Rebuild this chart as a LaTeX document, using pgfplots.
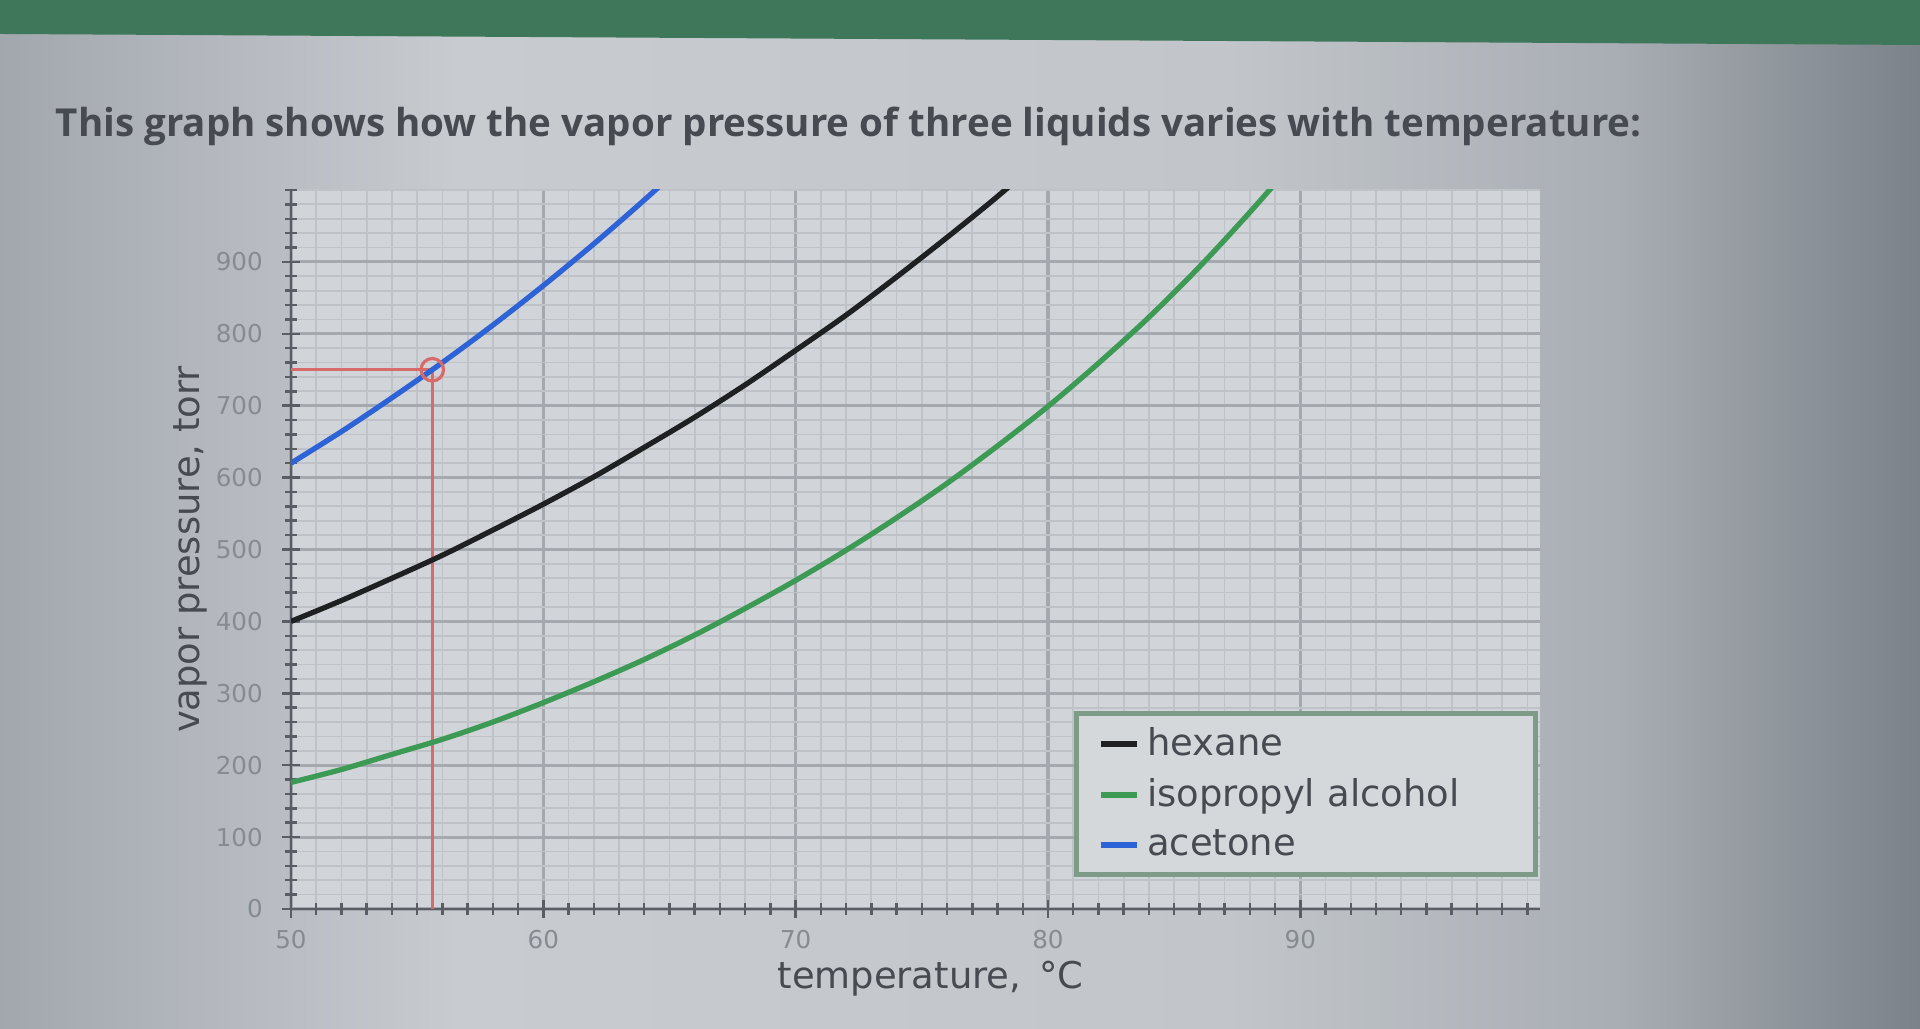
\documentclass[border=0pt]{standalone}
\usepackage{pgfplots}
\pgfplotsset{compat=1.18}
\usepackage{fontspec}
\setmainfont{DejaVu Sans}
\newfontfamily\titlefont{Open Sans}
\definecolor{bgL}{HTML}{A2A7AE}
\definecolor{bgM}{HTML}{C8CCD1}
\definecolor{bgM2}{HTML}{C2C6CB}
\definecolor{bgM3}{HTML}{A9AEB4}
\definecolor{bgR}{HTML}{7C828A}
\definecolor{band}{HTML}{3E7759}
\definecolor{plotbg}{HTML}{D1D4D8}
\definecolor{majgrid}{HTML}{A4A8AF}
\definecolor{mingrid}{HTML}{BFC3C8}
\definecolor{axcol}{HTML}{5A5E64}
\definecolor{ticklab}{HTML}{868B92}
\definecolor{labtext}{HTML}{474B51}
\definecolor{hexc}{HTML}{1E2022}
\definecolor{ipac}{HTML}{3C9A55}
\definecolor{acec}{HTML}{2D63D6}
\definecolor{redc}{HTML}{D86A6A}
\definecolor{legframe}{HTML}{7E9B88}
\definecolor{legfill}{HTML}{D5D8DB}
\pgfdeclarehorizontalshading{bgshade}{100bp}{color(0bp)=(bgL); color(25bp)=(bgL); color(37bp)=(bgM); color(57bp)=(bgM2); color(67bp)=(bgM3); color(75bp)=(bgR); color(100bp)=(bgR)}

\pgfplotstableread{
T P
50 400
52 429
54 460
56 492
58 527
60 563
62 601
64 642
66 684
68 729
70 777
72 826
74 879
76 934
78 991
80 1052
}\hexane

\pgfplotstableread{
T P
50 176
52 194
54 215
56 236
58 260
60 287
62 316
64 347
66 381
68 418
70 457
72 499
74 544
76 592
78 644
80 699
82 759
84 823
86 893
88 969
90 1049
}\ipa

\pgfplotstableread{
T P
50 620
52 664
54 711
56 760
58 812
60 867
62 925
64 986
66 1050
}\acetone

\begin{document}
\begin{tikzpicture}[x=1cm,y=1cm]
\useasboundingbox (0,0) rectangle (19.2,10.29);
\shade[shading=bgshade] (0,0) rectangle (19.2,10.29);
\fill[band] (0,10.29) -- (19.2,10.29) -- (19.2,9.84) -- (0,9.95) -- cycle;
\node[anchor=west, inner sep=0pt, text=labtext] at (0.55,9.03)
  {\resizebox{15.86cm}{!}{\titlefont\bfseries This graph shows how the vapor pressure of three liquids varies with temperature:}};
\begin{axis}[
  at={(2.91cm,1.2cm)}, anchor=south west,
  scale only axis, width=12.49cm, height=7.19cm,
  xmin=50, xmax=99.5, ymin=0, ymax=1000,
  axis background/.style={fill=plotbg},
  axis x line=bottom, axis y line=left,
  axis line style={-, draw=axcol, line width=0.8pt},
  xtick={50,60,70,80,90}, ytick={0,100,...,900},
  minor xtick={50,51,...,99}, minor ytick={0,20,...,1000},
  grid=both,
  major grid style={draw=majgrid, line width=0.9pt},
  minor grid style={draw=mingrid, line width=0.5pt},
  tick align=center,
  major tick length=5pt, minor tick length=3.5pt,
  every tick/.style={draw=axcol, line width=0.7pt},
  tick label style={font=\fontsize{7}{8}\selectfont, text=ticklab},
  /pgf/number format/assume math mode=true,
  /pgf/number format/1000 sep={},
  xticklabel style={yshift=0pt},
  yticklabel style={xshift=-2pt},
  xlabel={temperature, \,°C},
  ylabel={vapor pressure, torr},
  label style={font=\fontsize{10.5}{12}\selectfont, text=labtext},
  xlabel style={at={(axis description cs:0.512,0)}, anchor=center, yshift=-0.7cm},
  ylabel style={at={(axis description cs:0,0.5)}, anchor=center, xshift=0cm, yshift=1.01cm},
  clip=true,
  legend style={at={(rel axis cs:0.998,0.045)}, anchor=south east,
    draw=legframe, line width=1.3pt, fill=legfill,
    font=\fontsize{10.5}{11}\selectfont, text=labtext,
    inner xsep=6pt, inner ysep=2pt, row sep=1pt,
    text width=3.6cm, align=left},
  legend cell align=left,
  legend image code/.code={\draw[#1, line width=1.8pt] (0cm,0cm) -- (0.36cm,0cm);},
]
\addplot[redc, line width=1pt, forget plot] coordinates {(55.6,0) (55.6,750)};
\addplot[redc, line width=1pt, forget plot] coordinates {(50,750) (55.6,750)};
\addplot[hexc, line width=1.5pt, smooth] table[x=T,y=P] {\hexane};
\addlegendentry{hexane}
\addplot[ipac, line width=1.5pt, smooth] table[x=T,y=P] {\ipa};
\addlegendentry{isopropyl alcohol}
\addplot[acec, line width=1.5pt, smooth] table[x=T,y=P] {\acetone};
\addlegendentry{acetone}
\addplot[redc, line width=0.9pt, only marks, mark=o, mark size=3.2pt, forget plot] coordinates {(55.6,750)};
\end{axis}
\end{tikzpicture}
\end{document}
